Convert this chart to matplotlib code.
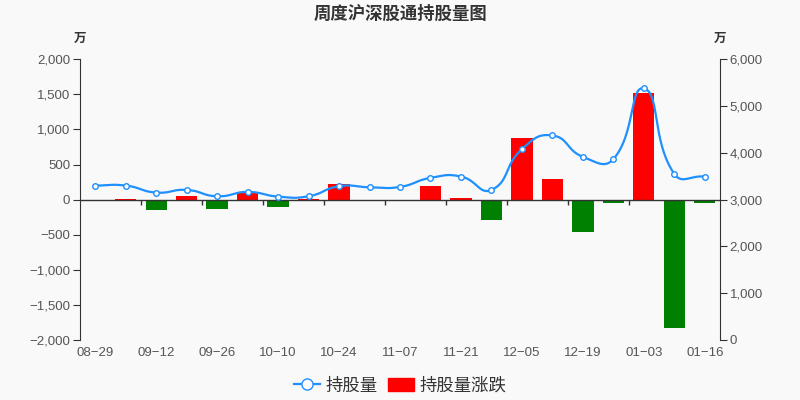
import numpy as np
import matplotlib
matplotlib.use("Agg")
import matplotlib.pyplot as plt
from matplotlib.lines import Line2D
from matplotlib.patches import Patch

plt.rcParams['font.family'] = ['Liberation Sans', 'Noto Sans CJK SC', 'DejaVu Sans']
plt.rcParams['axes.unicode_minus'] = True

dates = ['08-29', '09-05', '09-12', '09-19', '09-26', '09-30', '10-10',
         '10-17', '10-24', '10-31', '11-07', '11-14', '11-21', '11-28',
         '12-05', '12-12', '12-19', '12-26', '01-03', '01-09', '01-16']
# 持股量 (万)
holdings = [3300, 3300, 3150, 3207, 3071, 3164, 3064, 3071, 3286, 3264, 3271,
            3464, 3493, 3207, 4078, 4371, 3914, 3864, 5378, 3550, 3493]
# 持股量涨跌 (万)
changes = [-5, 5, -143, 57, -128, 100, -105, 14, 224, -22, -2,
           200, 29, -286, 871, 300, -462, -48, 1514, -1823, -52]

bg = '#f9f9f9'
blue = '#1e90ff'
red = '#ff0000'
green = '#008000'
axc = '#333333'
txt = '#555555'
cjk = ['Noto Sans CJK SC', 'DejaVu Sans']

fig = plt.figure(figsize=(8, 4), dpi=100, facecolor=bg)
ax = fig.add_axes([0.1, 0.15, 0.8, 0.702])
ax.set_facecolor(bg)
ax2 = ax.twinx()

n = len(dates)
x = np.arange(n)
cols = [red if v >= 0 else green for v in changes]
ax.bar(x, changes, width=0.7, color=cols, zorder=2)
ax.set_xlim(-0.5, n - 0.5)
ax.set_ylim(-2000, 2000)
ax.set_yticks(np.arange(-2000, 2001, 500))
ax.set_yticklabels([f'{v:,}'.replace('-', '−') for v in range(-2000, 2001, 500)])

# zero axis line with ticks at category boundaries
ax.axhline(0, color=axc, lw=1, zorder=3)
bounds = np.arange(0, n + 1, 2) - 0.5
ax.vlines(bounds[1:-1], -70, 0, color=axc, lw=1, zorder=3)

ax.set_xticks(x[::2])
ax.set_xticklabels([d.replace('-', '−') for d in dates[::2]])
ax.tick_params(axis='x', length=0, pad=5, labelsize=9.5, labelcolor=txt)
ax.tick_params(axis='y', length=5, color=axc, labelsize=9.5, labelcolor=txt, pad=2)

for s in ['top', 'bottom', 'right']:
    ax.spines[s].set_visible(False)
ax.spines['left'].set_color(axc)

ax2.set_ylim(0, 6000)
ax2.set_yticks(np.arange(0, 6001, 1000))
ax2.set_yticklabels([f'{v:,}' for v in range(0, 6001, 1000)])
ax2.tick_params(axis='y', length=5, color=axc, labelsize=9.5, labelcolor=txt, pad=2)
for s in ['top', 'bottom', 'left']:
    ax2.spines[s].set_visible(False)
ax2.spines['right'].set_color(axc)

# smooth line like echarts (bezier, smooth 0.5) in pixel space
sx, sy = 30.48, 140 / 3000
P = np.column_stack([x * sx, np.array(holdings) * sy])


def cps(prev, pt, nxt):
    v = (nxt - prev) * 0.5
    d0 = np.linalg.norm(pt - prev)
    d1 = np.linalg.norm(nxt - pt)
    s = d0 + d1
    if s:
        d0, d1 = d0 / s, d1 / s
    return pt - v * d0, pt + v * d1


curve = []
for i in range(n - 1):
    p0 = P[i - 1] if i > 0 else P[i]
    p1, p2 = P[i], P[i + 1]
    p3 = P[i + 2] if i + 2 < n else P[i + 1]
    _, c1 = cps(p0, p1, p2)
    c2, _ = cps(p1, p2, p3)
    t = np.linspace(0, 1, 30)[:, None]
    seg = (1 - t) ** 3 * p1 + 3 * (1 - t) ** 2 * t * c1 + 3 * (1 - t) * t ** 2 * c2 + t ** 3 * p2
    curve.append(seg)
curve = np.vstack(curve)
ax2.plot(curve[:, 0] / sx, curve[:, 1] / sy, color=blue, lw=1.6, zorder=4)
ax2.plot(x, holdings, 'o', ms=4, mfc='white', mec=blue, mew=1, zorder=5)

fig.text(0.5, 0.966, '周度沪深股通持股量图', ha='center', va='center',
         fontsize=12.5, fontweight='bold', color='#333333', family=cjk)
fig.text(0.1, 0.905, '万', ha='center', va='center', fontsize=9,
         fontweight='bold', color='#333333', family=cjk)
fig.text(0.9, 0.905, '万', ha='center', va='center', fontsize=9,
         fontweight='bold', color='#333333', family=cjk)

handles = [Line2D([0], [0], color=blue, lw=1.6, marker='o', ms=8,
                  mfc='white', mec=blue),
           Patch(facecolor=red, edgecolor=red)]
fig.legend(handles, ['持股量', '持股量涨跌'], loc='center', ncol=2,
           bbox_to_anchor=(0.5, 0.036), frameon=False,
           prop={'family': cjk, 'size': 12.5},
           handlelength=1.5, handleheight=0.8, columnspacing=0.6,
           handletextpad=0.3, labelcolor='#333333')

fig.savefig('out.png', dpi=100, facecolor=bg)
